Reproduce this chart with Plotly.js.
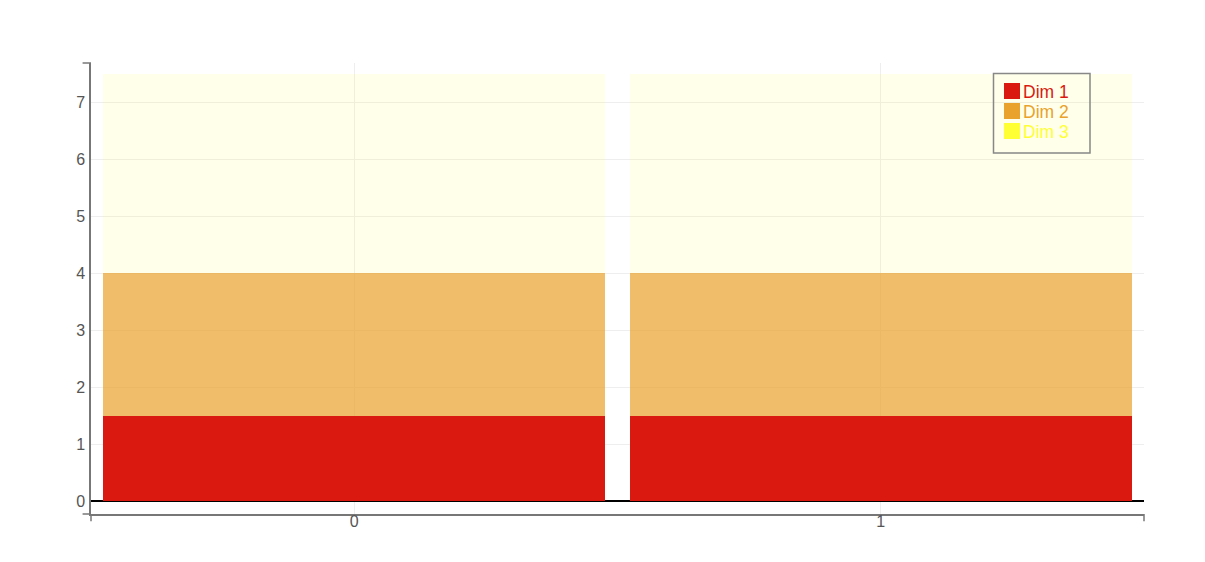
<!DOCTYPE html>
<html>
  <head>
    <meta charset="utf-8" />
    <title>Stacked dims</title>
    <script src="https://cdn.plot.ly/plotly-3.0.1.min.js"></script>
    <style>
      body { margin: 0; padding: 0; background: white; }
      #graphDiv { width: 1205px; height: 562px; }
    </style>
  </head>
  <body>
    <div id="graphDiv"></div>
    <script>
      const categories = ["0", "1"];
      const dim1 = [1.5, 1.5];
      const dim2 = [2.5, 2.5];
      const dim3 = [3.5, 3.5];
      const series_names = ["Dim 1", "Dim 2", "Dim 3"];
      const series_colors = ["#da1a10", "#e9a22b", "#ffff33"];
      const series_opacity = [1, 0.7, 0.1];
      const series_values = [dim1, dim2, dim3];

      const traces = series_values.map((vals, i) => ({
        type: "bar",
        x: categories,
        y: vals,
        name: series_names[i],
        marker: { color: series_colors[i], opacity: series_opacity[i], line: { width: 0 } },
        hoverinfo: "y",
        showlegend: false,
      }));

      const axis_gray = "#777";

      // plot area in pixels, used to place the hand made legend
      const plot_l = 91, plot_r = 1144, plot_t = 63, plot_b = 514;
      const px = (x) => (x - plot_l) / (plot_r - plot_l);
      const py = (y) => (plot_b - y) / (plot_b - plot_t);

      const shapes = [
        // outer tick marks of the axis domain
        { type: "line", xref: "paper", yref: "paper", x0: -0.008, x1: 0, y0: 1, y1: 1, line: { color: axis_gray, width: 1.5 } },
        { type: "line", xref: "paper", yref: "paper", x0: -0.008, x1: 0, y0: 0, y1: 0, line: { color: axis_gray, width: 1.5 } },
        { type: "line", xref: "paper", yref: "paper", x0: 0, x1: 0, y0: 0, y1: -0.016, line: { color: axis_gray, width: 1.5 } },
        { type: "line", xref: "paper", yref: "paper", x0: 1, x1: 1, y0: 0, y1: -0.016, line: { color: axis_gray, width: 1.5 } },
        // legend frame
        { type: "rect", xref: "paper", yref: "paper", x0: px(993.5), x1: px(1090), y0: py(153), y1: py(73.5),
          line: { color: "#888", width: 1.5 }, fillcolor: "rgba(0,0,0,0)" },
      ];
      const annotations = [];

      series_names.forEach((name, i) => {
        const top = 83 + i * 20;
        shapes.push({
          type: "rect", xref: "paper", yref: "paper",
          x0: px(1004), x1: px(1020), y0: py(top + 16), y1: py(top),
          line: { width: 0 }, fillcolor: series_colors[i],
        });
        annotations.push({
          xref: "paper", yref: "paper", x: px(1021), y: py(top + 8.5),
          xanchor: "left", yanchor: "middle", showarrow: false,
          text: name,
          font: { size: 17.5, color: series_colors[i] },
        });
      });

      const layout = {
        width: 1205,
        height: 562,
        barmode: "stack",
        bargap: 0.046,
        showlegend: false,
        paper_bgcolor: "white",
        plot_bgcolor: "white",
        font: { family: "Liberation Sans, Arial, sans-serif", color: "#555", size: 16 },
        margin: { l: plot_l, r: 1205 - plot_r, t: plot_t, b: 562 - plot_b },
        xaxis: {
          type: "category",
          showgrid: true,
          gridcolor: "#eeeeee",
          showline: true,
          linecolor: axis_gray,
          linewidth: 1.5,
          ticks: "",
          ticklabelstandoff: -8,
          tickfont: { size: 16, color: "#555" },
          zeroline: false,
        },
        yaxis: {
          range: [-0.229, 7.7],
          dtick: 1,
          showgrid: true,
          gridcolor: "#eeeeee",
          showline: true,
          linecolor: axis_gray,
          linewidth: 1.5,
          ticks: "",
          ticklabelstandoff: 1,
          tickfont: { size: 16, color: "#555" },
          zeroline: true,
          zerolinecolor: "#000",
          zerolinewidth: 1.5,
        },
        shapes: shapes,
        annotations: annotations,
      };

      Plotly.newPlot("graphDiv", traces, layout, { displayModeBar: false });
    </script>
  </body>
</html>
